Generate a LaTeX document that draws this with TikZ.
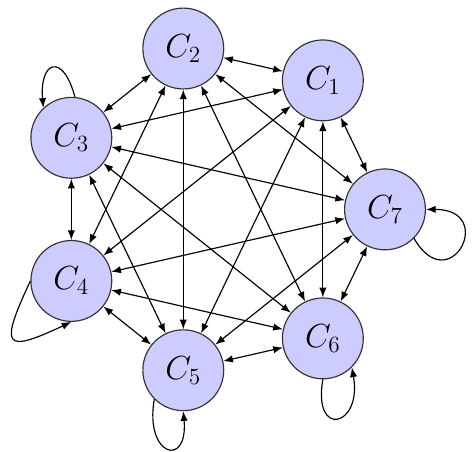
\documentclass[tikz,border=0pt]{standalone}
\usetikzlibrary{arrows.meta}
\begin{document}
\begin{tikzpicture}[>={Latex[length=5pt,width=3.8pt]}, line width=0.6pt]
        \tikzset{cnode/.style={circle, draw=black!80, fill=blue!20, minimum size=1.47cm, inner sep=0pt, font=\LARGE}}
        \useasboundingbox (-4.0,-4.393) rectangle (4.618,3.807);
        \node[cnode] (c7) at (0:3) {$C_7$};
        \node[cnode] (c1) at (51.43:3) {$C_1$};
        \node[cnode] (c2) at (102.86:3) {$C_2$};
        \node[cnode] (c3) at (154.29:3) {$C_3$};
        \node[cnode] (c4) at (205.71:3) {$C_4$};
        \node[cnode] (c5) at (257.14:3) {$C_5$};
        \node[cnode] (c6) at (308.57:3) {$C_6$};
        % edges between all clusters
        \draw[<->] (c1) -- (c2);
        \draw[<->] (c1) -- (c3);
        \draw[<->] (c1) -- (c4);
        \draw[<->] (c1) -- (c5);
        \draw[<->] (c1) -- (c6);
        \draw[<->] (c1) -- (c7);
        \draw[<->] (c2) -- (c3);
        \draw[<->] (c2) -- (c4);
        \draw[<->] (c2) -- (c5);
        \draw[<->] (c2) -- (c6);
        \draw[<->] (c2) -- (c7);
        \draw[<->] (c3) -- (c4);
        \draw[<->] (c3) -- (c5);
        \draw[<->] (c3) -- (c6);
        \draw[<->] (c3) -- (c7);
        \draw[<->] (c4) -- (c5);
        \draw[<->] (c4) -- (c6);
        \draw[<->] (c4) -- (c7);
        \draw[<->] (c5) -- (c6);
        \draw[<->] (c5) -- (c7);
        \draw[<->] (c6) -- (c7);
        % self loops
        \draw[->] (c3.85) to[out=105,in=95,distance=0.85cm] (c3.133);
        \draw[->] (c7.-45) to[out=-60,in=0,distance=1.3cm] (c7.0);
        \draw[->] (c4.180) to[out=-115,in=-155,distance=1.35cm] (c4.-90);
        \draw[->] (c5.-135) to[out=-100,in=-85,distance=1.05cm] (c5.-90);
        \draw[->] (c6.-90) to[out=-100,in=-80,distance=1.1cm] (c6.-45);
    \end{tikzpicture}
\end{document}
